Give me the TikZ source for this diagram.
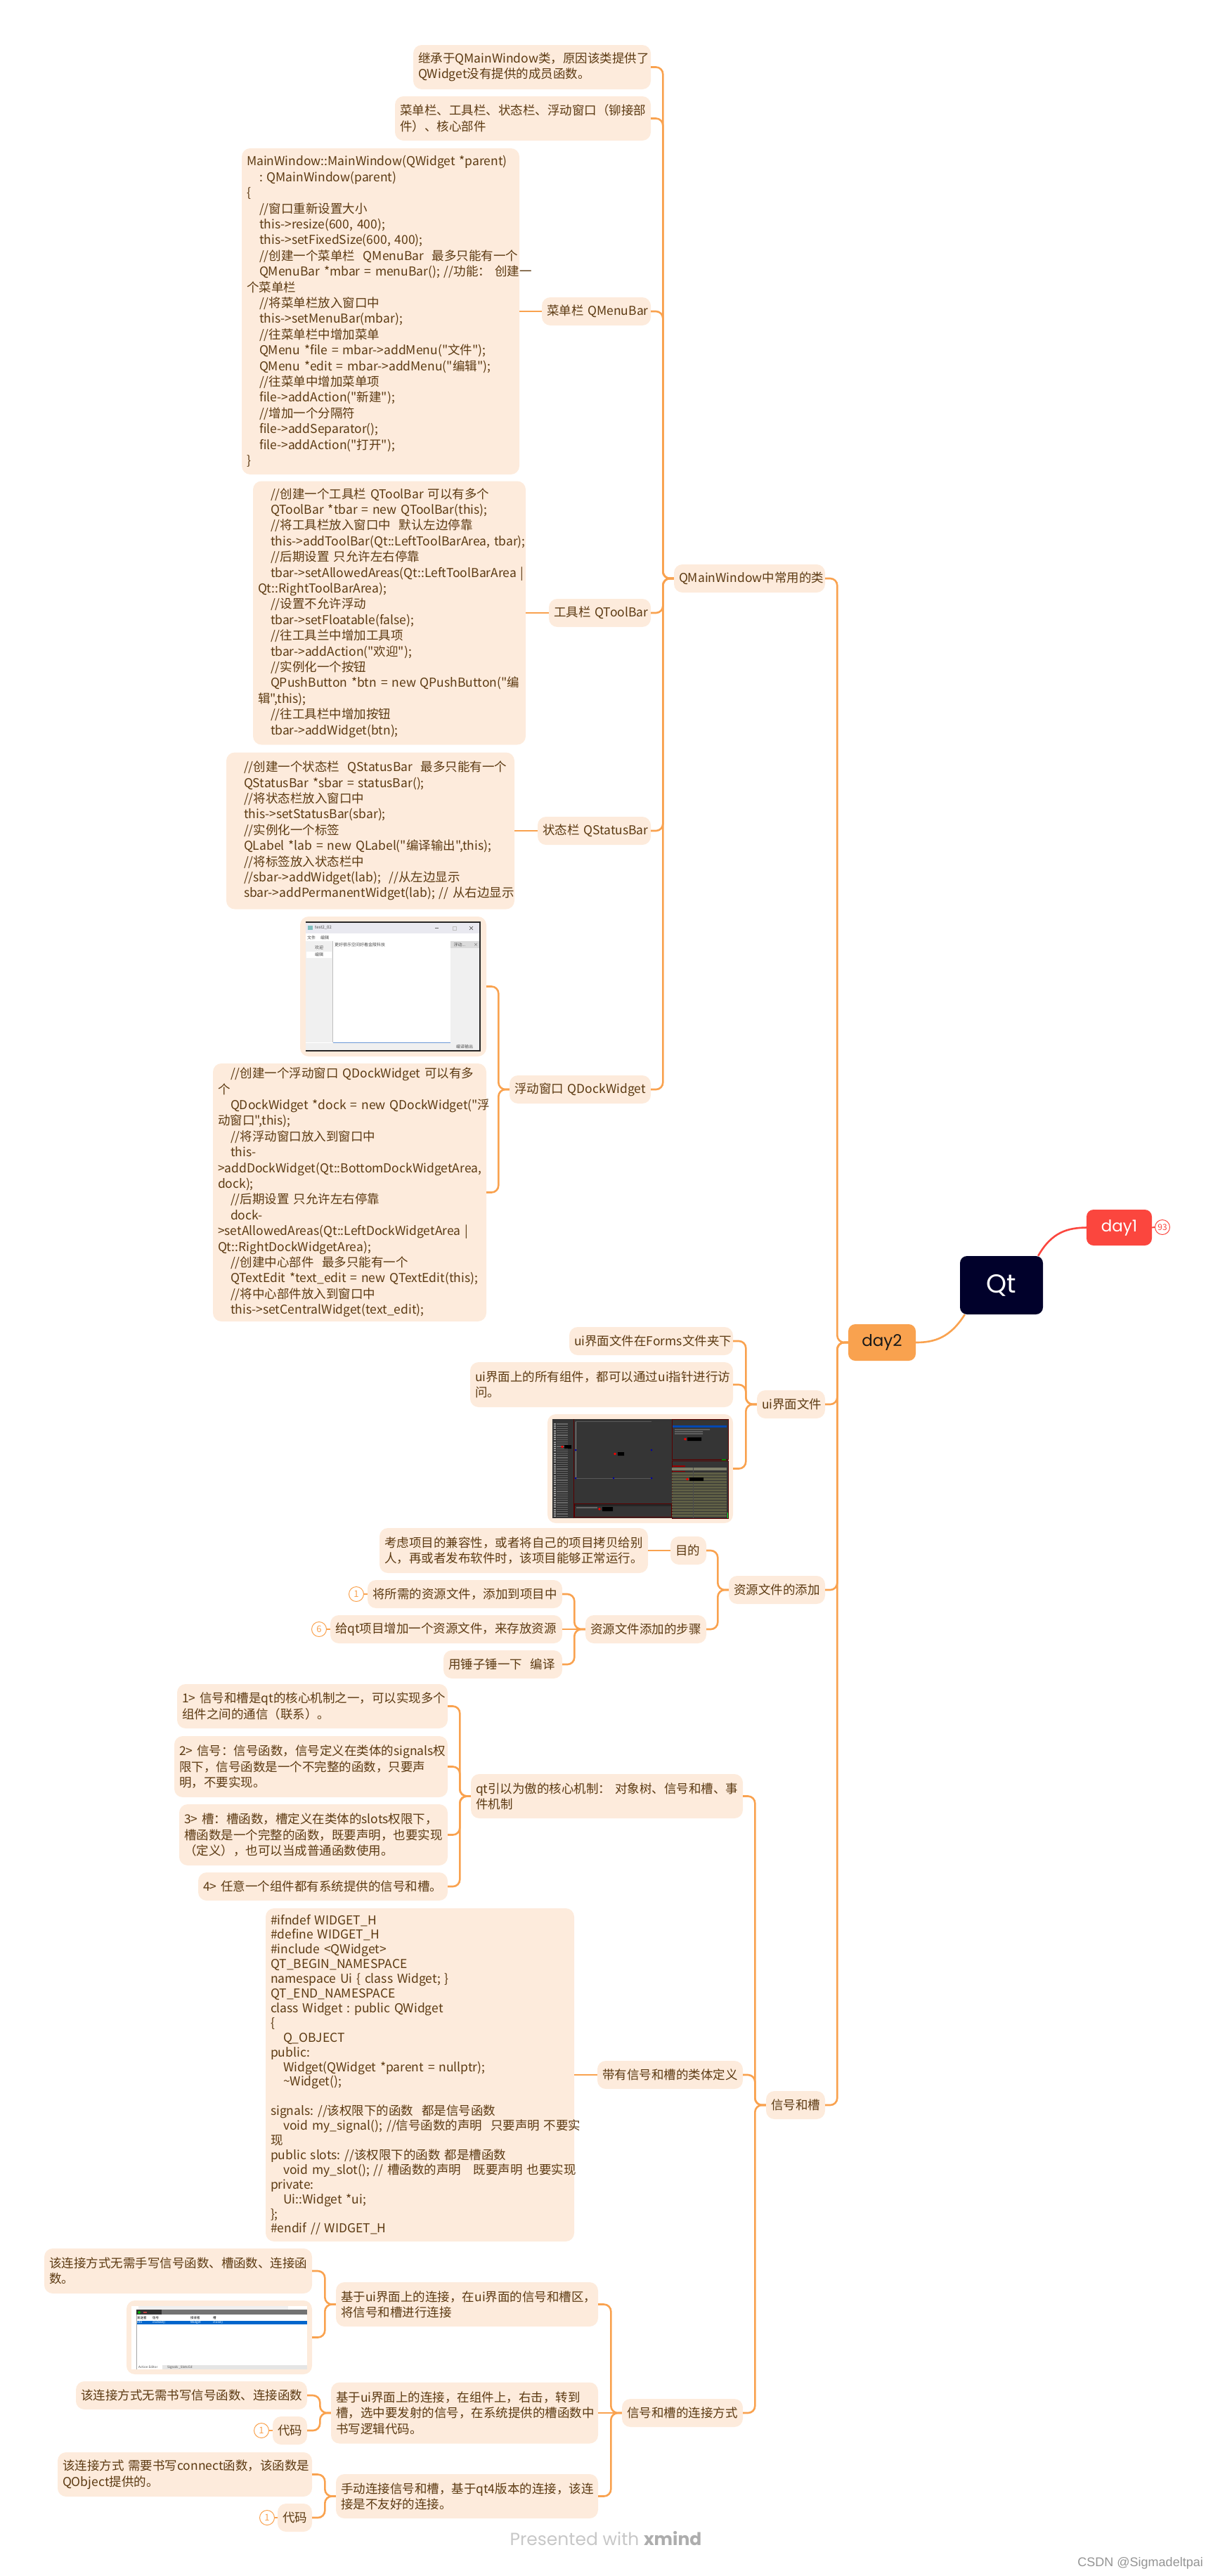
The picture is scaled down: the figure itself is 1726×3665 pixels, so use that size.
\documentclass[tikz,border=0pt]{standalone}
\usepackage{fontspec}
\setmainfont{Noto Sans CJK SC}
\newfontfamily\notefont{Noto Sans CJK SC}
\newfontfamily\logofont{Poppins}
\newfontfamily\markfont{Liberation Sans}
\usetikzlibrary{calc}
\definecolor{topicfill}{HTML}{FDEBDC}
\definecolor{topictext}{HTML}{5C3A12}
\definecolor{linkorange}{HTML}{F9A24F}
\definecolor{dayred}{HTML}{FB463E}
\definecolor{qtnavy}{HTML}{01012B}
\definecolor{shotgray}{HTML}{F0F0F0}
\definecolor{shotdark}{HTML}{353535}
\definecolor{shotolive}{HTML}{5F5F45}
\newcommand{\codetab}{\hspace*{18pt}}
\newcommand{\notestyle}{\notefont\fontsize{17.5}{22.4}\selectfont\hyphenpenalty=10000 \exhyphenpenalty=10000 }
\hfuzz=40pt
\begin{document}
\begin{tikzpicture}[x=1pt,y=-1pt,
topic/.style 2 args={fill=topicfill, text=topictext, rounded corners=12pt, inner xsep=7pt, inner ysep=0pt, align=left, font=\notestyle, text width=#1pt, minimum height=#2pt},
rootbox/.style 2 args={rounded corners=10pt, inner sep=0pt, align=center, minimum width=#1pt, minimum height=#2pt, font=\logofont\fontsize{23}{28}\selectfont},
link/.style={draw=linkorange, line width=2.6pt, rounded corners=10pt},
marker/.style={circle, draw=linkorange, fill=white, text=linkorange, line width=1pt, minimum size=21pt, inner sep=0pt, font=\fontsize{13}{14}\selectfont},
shotlabel/.style={inner sep=0pt, text=black!70, font=\fontsize{6}{7}\selectfont}]
\useasboundingbox (0,0) rectangle (1726,3665);

\node[rootbox={118}{83}, fill=qtnavy, text=white, font=\logofont\fontsize{37}{40}\selectfont] (qt) at (1425,1828.5) {Qt};
\node[rootbox={93}{51}, fill=dayred, text=white] (day1) at (1592.5,1746.5) {day1};
\node[rootbox={96}{52}, fill=linkorange, text=black!90] (day2) at (1255,1910) {day2};
\node[marker, draw=dayred, text=dayred, font=\fontsize{12}{13}\selectfont] (daymark) at (1654,1746) {93};

\node[topic={201}{40}] (qmain) at (1066.5,823) {QMainWindow中常用的类};
\node[topic={324}{63}] (inherit) at (757,95.5) {继承于QMainWindow类，原因该类提供了\\QWidget没有提供的成员函数。};
\node[topic={350}{63}] (parts) at (744,168.5) {菜单栏、工具栏、状态栏、浮动窗口（铆接部\\件）、核心部件};
\node[topic={141}{40}] (menubar) at (848.5,443) {菜单栏~QMenuBar};
\node[topic={381}{464}] (menucode) at (541.5,443) {MainWindow::MainWindow(QWidget~*parent)\\
\codetab:~QMainWindow(parent)\\
\{\\
\codetab//窗口重新设置大小\\
\codetab this->resize(600,~400);\\
\codetab this->setFixedSize(600,~400);\\
\codetab//创建一个菜单栏~~QMenuBar~~最多只能有一个\\
\codetab QMenuBar~*mbar~=~menuBar();~//功能：~创建一\\
个菜单栏\\
\codetab//将菜单栏放入窗口中\\
\codetab this->setMenuBar(mbar);\\
\codetab//往菜单栏中增加菜单\\
\codetab QMenu~*file~=~mbar->addMenu("文件");\\
\codetab QMenu~*edit~=~mbar->addMenu("编辑");\\
\codetab//往菜单中增加菜单项\\
\codetab file->addAction("新建");\\
\codetab//增加一个分隔符\\
\codetab file->addSeparator();\\
\codetab file->addAction("打开");\\
\}};
\node[topic={131}{40}] (toolbar) at (853.5,872) {工具栏~QToolBar};
\node[topic={374}{375}] (toolcode) at (554,872) {\codetab//创建一个工具栏~QToolBar~可以有多个\\
\codetab QToolBar~*tbar~=~new~QToolBar(this);\\
\codetab//将工具栏放入窗口中~~默认左边停靠\\
\codetab this->addToolBar(Qt::LeftToolBarArea,~tbar);\\
\codetab//后期设置~只允许左右停靠\\
\codetab tbar->setAllowedAreas(Qt::LeftToolBarArea~|\\
Qt::RightToolBarArea);\\
\codetab//设置不允许浮动\\
\codetab tbar->setFloatable(false);\\
\codetab//往工具兰中增加工具项\\
\codetab tbar->addAction("欢迎");\\
\codetab//实例化一个按钮\\
\codetab QPushButton~*btn~=~new~QPushButton("编\\
辑",this);\\
\codetab//往工具栏中增加按钮\\
\codetab tbar->addWidget(btn);};
\node[topic={147}{40}] (statusbar) at (845.5,1182) {状态栏~QStatusBar};
\node[topic={396}{223}] (statuscode) at (527,1182) {\codetab//创建一个状态栏~~QStatusBar~~最多只能有一个\\
\codetab QStatusBar~*sbar~=~statusBar();\\
\codetab//将状态栏放入窗口中\\
\codetab this->setStatusBar(sbar);\\
\codetab//实例化一个标签\\
\codetab QLabel~*lab~=~new~QLabel("编译输出",this);\\
\codetab//将标签放入状态栏中\\
\codetab//sbar->addWidget(lab);~~//从左边显示\\
\codetab sbar->addPermanentWidget(lab);~//~从右边显示};
\node[topic={187}{40}] (dock) at (825.5,1550) {浮动窗口~QDockWidget};
\node[topic={251}{199}] (dockshot) at (559.5,1403.5) {};
\node[topic={375}{367}] (dockcode) at (497.5,1696.5) {\codetab//创建一个浮动窗口~QDockWidget~可以有多\\
个\\
\codetab QDockWidget~*dock~=~new~QDockWidget("浮\\
动窗口",this);\\
\codetab//将浮动窗口放入到窗口中\\
\codetab this-\\
>addDockWidget(Qt::BottomDockWidgetArea,\\
dock);\\
\codetab//后期设置~只允许左右停靠\\
\codetab dock-\\
>setAllowedAreas(Qt::LeftDockWidgetArea~|\\
Qt::RightDockWidgetArea);\\
\codetab//创建中心部件~~最多只能有一个\\
\codetab QTextEdit~*text\_edit~=~new~QTextEdit(this);\\
\codetab//将中心部件放入到窗口中\\
\codetab this->setCentralWidget(text\_edit);};

\node[topic={83}{40}] (uifile) at (1125.5,1998) {ui界面文件};
\node[topic={219}{40}] (uiforms) at (926.5,1908) {ui界面文件在Forms文件夹下};
\node[topic={360}{64}] (uiall) at (856,1970) {ui界面上的所有组件，都可以通过ui指针进行访\\问。};
\node[topic={250}{155}] (uishot) at (911,2089.5) {};

\node[topic={123}{40}] (res) at (1105.5,2262) {资源文件的添加};
\node[topic={37}{40}] (aim) at (979.5,2206) {目的};
\node[topic={368}{64}] (aimtext) at (731,2206) {考虑项目的兼容性，或者将自己的项目拷贝给别\\人，再或者发布软件时，该项目能够正常运行。};
\node[topic={158}{40}] (steps) at (919,2318) {资源文件添加的步骤};
\node[topic={263}{40}] (step1) at (661.5,2268) {将所需的资源文件，添加到项目中};
\node[topic={316}{40}] (step2) at (635,2318) {给qt项目增加一个资源文件，来存放资源};
\node[topic={155}{40}] (step3) at (715.5,2368) {用锤子锤一下~~编译};
\node[marker] (stepmark1) at (507,2268) {1};
\node[marker] (stepmark2) at (454,2318) {6};

\node[topic={70}{40}] (sigslot) at (1132,2995) {信号和槽};
\node[topic={373}{63}] (qtcore) at (863.5,2555.5) {qt引以为傲的核心机制：~对象树、信号和槽、事\\件机制};
\node[topic={371}{63}] (core1) at (444.5,2427.5) {1>~信号和槽是qt的核心机制之一，可以实现多个\\组件之间的通信（联系）。};
\node[topic={375}{87}] (core2) at (442.5,2513.5) {2>~信号：信号函数，信号定义在类体的signals权\\限下，信号函数是一个不完整的函数，只要声\\明，不要实现。};
\node[topic={368}{87}] (core3) at (446,2610.5) {3>~槽：槽函数，槽定义在类体的slots权限下，\\槽函数是一个完整的函数，既要声明，也要实现\\（定义），也可以当成普通函数使用。};
\node[topic={341}{40}] (core4) at (459.5,2684) {4>~任意一个组件都有系统提供的信号和槽。};
\node[topic={193}{40}] (classdef) at (953.5,2952) {带有信号和槽的类体定义};
\node[topic={425}{474}, font=\notestyle\fontsize{17.5}{20.9}\selectfont] (classcode) at (597.5,2952) {\#ifndef~WIDGET\_H\\
\#define~WIDGET\_H\\
\#include~<QWidget>\\
QT\_BEGIN\_NAMESPACE\\
namespace~Ui~\{~class~Widget;~\}\\
QT\_END\_NAMESPACE\\
class~Widget~:~public~QWidget\\
\{\\
\codetab Q\_OBJECT\\
public:\\
\codetab Widget(QWidget~*parent~=~nullptr);\\
\codetab\textasciitilde Widget();\\
\mbox{}\\
signals:~//该权限下的函数~~都是信号函数\\
\codetab void~my\_signal();~//信号函数的声明~~只要声明~不要实\\
现\\
public~slots:~//该权限下的函数~都是槽函数\\
\codetab void~my\_slot();~//~槽函数的声明~~~既要声明~也要实现\\
private:\\
\codetab Ui::Widget~*ui;\\
\};\\
\#endif~//~WIDGET\_H};
\node[topic={158}{40}] (conn) at (971,3433) {信号和槽的连接方式};
\node[topic={359}{63}] (conn1) at (664.5,3278.5) {基于ui界面上的连接，在ui界面的信号和槽区，\\将信号和槽进行连接};
\node[topic={367}{64}] (conn1a) at (253.5,3231) {该连接方式无需手写信号函数、槽函数、连接函\\数。};
\node[topic={250}{105}] (conn1b) at (312,3325.5) {};
\node[topic={366}{87}] (conn2) at (661,3433) {基于ui界面上的连接，在组件上，右击，转到\\槽，选中要发射的信号，在系统提供的槽函数中\\书写逻辑代码。};
\node[topic={315}{40}] (conn2a) at (272.5,3408) {该连接方式无需书写信号函数、连接函数};
\node[topic={35}{40}] (conn2b) at (412.5,3458) {代码};
\node[marker] (connmark2) at (372,3458) {1};
\node[topic={359}{63}] (conn3) at (664.5,3551.5) {手动连接信号和槽，基于qt4版本的连接，该连\\接是不友好的连接。};
\node[topic={348}{63}] (conn3a) at (263,3520.5) {该连接方式~需要书写connect函数，该函数是\\QObject提供的。};
\node[topic={35}{40}] (conn3b) at (419.5,3582) {代码};
\node[marker] (connmark3) at (380,3582) {1};

\foreach \parent/\child in {day2/qmain, day2/uifile, day2/res, day2/sigslot, qmain/inherit, qmain/parts, qmain/menubar, qmain/toolbar, qmain/statusbar, qmain/dock, dock/dockshot, dock/dockcode, uifile/uiforms, uifile/uiall, uifile/uishot, res/aim, res/steps, steps/step1, steps/step3, sigslot/qtcore, sigslot/classdef, sigslot/conn, qtcore/core1, qtcore/core2, qtcore/core3, qtcore/core4, conn/conn1, conn/conn3, conn1/conn1a, conn1/conn1b, conn2/conn2a, conn2/conn2b, conn3/conn3a, conn3/conn3b}
\draw[link] (\parent.west) -- ++(-15.5,0) |- (\child.east);
\foreach \parent/\child in {menubar/menucode, toolbar/toolcode, statusbar/statuscode, aim/aimtext, steps/step2, classdef/classcode, conn/conn2}
\draw[link] (\parent) -- (\child);
\draw[link] ($(qt.south west)+(7,0)$) .. controls (1352,1903) and (1330,1910) .. (day2.east);
\draw[link, draw=dayred] ($(qt.north east)+(-7,0)$) .. controls (1497,1752) and (1520,1747) .. (day1.west);
\draw[line width=2pt, dayred] (day1.east) -- (daymark.west);
\foreach \note/\host in {stepmark1/step1, stepmark2/step2, connmark2/conn2b, connmark3/conn3b}
\draw[line width=2pt, linkorange] (\note.east) -- (\host.west);

\fill[white] (435,1312) rectangle (682,1494);
\fill[blue!3!shotgray] (435,1312) rectangle (682,1328);
\fill[shotgray] (435,1339) rectangle (473,1483);
\fill[white] (436,1354) rectangle (472,1363);
\fill[shotgray] (641,1339) rectangle (682,1494);
\fill[black!14] (641,1339) rectangle (682,1349);
\fill[shotgray] (435,1484) rectangle (682,1494);
\draw[black!25] (473.5,1339) -- (473.5,1483);
\draw[cyan!50!blue!60, line width=1pt] (474,1483.5) -- (641,1483.5);
\draw[black!85, line width=2pt] (435,1311.5) -- (683,1311.5) -- (683,1495) -- (435,1495);
\draw[black!60] (619,1320) -- (624,1320);
\draw[black!25] (644,1318) rectangle (649,1323);
\draw[black!75] (668,1318) -- (673,1323) (668,1323) -- (673,1318);
\fill[teal!50] (438,1317) rectangle (445,1323);
\node[shotlabel] (dockt1) at (460,1320) {test2\_02};
\node[shotlabel] (dockt2) at (443,1334) {文件};
\node[shotlabel] (dockt3) at (462,1334) {编辑};
\node[shotlabel] (dockt4) at (454,1348) {欢迎};
\node[shotlabel] (dockt5) at (454,1358.5) {编辑};
\node[shotlabel, anchor=west] (dockt6) at (476,1344) {更好很乐空间好看金陵科技};
\node[shotlabel] (dockt7) at (654,1344.5) {浮动...};
\node[shotlabel] (dockt8) at (677,1344) {×};
\node[shotlabel] (dockt9) at (661,1489) {编译输出};

\fill[shotdark] (786,2019) rectangle (1036,2160);
\fill[black!80] (786,2019) rectangle (1036,2021);
\foreach \y in {2025,2028.2,...,2158} {
\fill[black!40] (788,\y) rectangle (791,\y+2);
\fill[black!60] (792,\y+0.4) rectangle (808,\y+1.6);
}
\draw[red!35!black, line width=0.7pt] (816,2019) -- (816,2160);
\draw[black!45, line width=0.7pt] (819,2022) -- (819,2103);
\draw[black!65, line width=0.7pt] (819,2022) -- (927,2022) (819,2103) -- (927,2103);
\fill[blue!65!black] (818,2062) rectangle (820,2064) (926,2062) rectangle (928,2064) (818,2102) rectangle (820,2104) (872,2102) rectangle (874,2104) (926,2102) rectangle (928,2104);
\draw[red!35!black, line width=0.6pt] (956,2019) rectangle (1036,2076);
\fill[blue!60!cyan!70!black] (957,2028) rectangle (1034,2030.5);
\fill[black!60] (960,2033) rectangle (1010,2034.5) (960,2036) rectangle (1000,2037.5) (960,2039) rectangle (1000,2040.5);
\fill[green!55!black] (1027,2076) rectangle (1033,2078);
\draw[red!35!black, line width=0.6pt] (956,2078) rectangle (1036,2160);
\fill[red!60!black] (957,2085) rectangle (975,2087);
\fill[shotolive!80!white] (956,2088) rectangle (1034,2092);
\fill[red!60!black] (957,2092.5) rectangle (975,2094);
\foreach \y in {2095,2099,...,2158}
\fill[shotolive] (956,\y) rectangle (1034,\y+3);
\draw[black!70, line width=0.6pt] (986,2088) -- (986,2160);
\fill[black!85] (817,2139) rectangle (955,2143);
\draw[red!35!black, line width=0.6pt] (817,2139) rectangle (955,2158);
\fill[black!60] (820,2144) rectangle (850,2145.5);
\fill[black] (803,2056) rectangle (813,2061) (879,2066) rectangle (888,2071) (978,2045) rectangle (998,2050) (981,2102) rectangle (1001,2107) (857,2144) rectangle (872,2150);
\fill[red] (800,2058.5) circle (1.8) (875,2068.5) circle (1.8) (975,2047.5) circle (1.8) (978,2104.5) circle (1.8) (853,2147) circle (1.8);
\fill[green!80!cyan] (1035,2152) rectangle (1036,2160);

\fill[white] (187,3281) rectangle (437,3371);
\fill[black!6] (197,3281) rectangle (410,3286);
\fill[black!80] (194,3286) rectangle (437,3293);
\fill[black!55] (230,3286) rectangle (437,3293);
\fill[blue!50!cyan!80!black] (194,3302) rectangle (437,3306.5);
\fill[black!10] (194,3365) rectangle (437,3371);
\fill[white] (195,3365) rectangle (231,3371);
\draw[black!35, line width=0.7pt] (194.5,3293) -- (194.5,3371);
\draw[green!70!black, line width=1.2pt] (196,3290) -- (200,3290) (198,3288) -- (198,3292);
\draw[red!50!gray, line width=1.2pt] (204,3290) -- (209,3290);
\node[shotlabel, text=black, anchor=west, font=\fontsize{4.5}{5}\selectfont] (conht1) at (195,3298) {发送者};
\node[shotlabel, text=black, anchor=west, font=\fontsize{4.5}{5}\selectfont] (conht2) at (217,3298) {信号};
\node[shotlabel, text=black, anchor=west, font=\fontsize{4.5}{5}\selectfont] (conht3) at (271,3298) {接收者};
\node[shotlabel, text=black, anchor=west, font=\fontsize{4.5}{5}\selectfont] (conht4) at (303,3298) {槽};
\node[shotlabel, text=white, anchor=west, font=\fontsize{4.5}{5}\selectfont] (conrt1) at (195,3304) {btn};
\node[shotlabel, text=white, anchor=west, font=\fontsize{4.5}{5}\selectfont] (conrt2) at (217,3304) {clicked()};
\node[shotlabel, text=white, anchor=west, font=\fontsize{4.5}{5}\selectfont] (conrt3) at (271,3304) {Widget};
\node[shotlabel, text=white, anchor=west, font=\fontsize{4.5}{5}\selectfont] (conrt4) at (303,3304) {close()};
\node[shotlabel, anchor=west, font=\fontsize{4.5}{5}\selectfont] (contab1) at (197,3368) {Action Editor};
\node[shotlabel, anchor=west, font=\fontsize{4.5}{5}\selectfont] (contab2) at (238,3368) {Signals \_Slots Ed};

\node[inner sep=0pt, text=black!22, font=\logofont\fontsize{25}{30}\selectfont] (presented) at (862,3612) {Presented with {\bfseries\color{black!32}xmind}};
\node[inner sep=0pt, anchor=east, text=black!42, font=\markfont\fontsize{18}{20}\selectfont] (csdn) at (1712,3647) {CSDN @Sigmadeltpai};
\end{tikzpicture}
\end{document}
